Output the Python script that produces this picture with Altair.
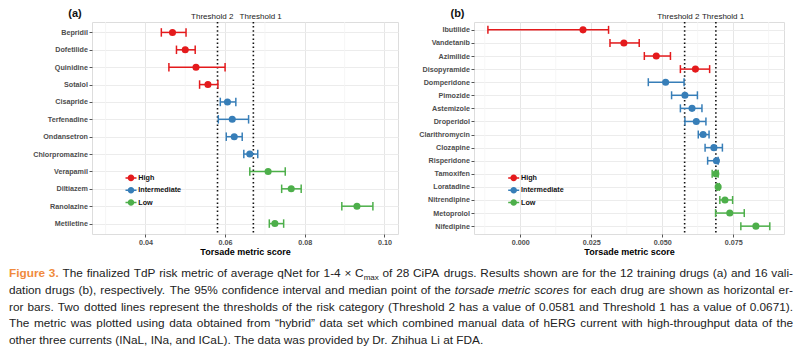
import altair as alt
import pandas as pd

RISKS = ["High", "Intermediate", "Low"]
COLS = ["#E41A1C", "#377EB8", "#4DAF4A"]

# ---------------- panel (a): training drugs ----------------
a_drugs = ["Bepridil", "Dofetilide", "Quinidine", "Sotalol", "Cisapride", "Terfenadine",
           "Ondansetron", "Chlorpromazine", "Verapamil", "Diltiazem", "Ranolazine", "Metiletine"]
a_risk = ["High"] * 4 + ["Intermediate"] * 4 + ["Low"] * 4
a_med = [0.0468, 0.0500, 0.0527, 0.0557, 0.0606, 0.0618, 0.0623, 0.0662, 0.0708, 0.0766, 0.0931, 0.0725]
a_lo = [0.0440, 0.0478, 0.0459, 0.0536, 0.0588, 0.0583, 0.0603, 0.0647, 0.0662, 0.0742, 0.0893, 0.0711]
a_hi = [0.0502, 0.0525, 0.0600, 0.0582, 0.0627, 0.0659, 0.0643, 0.0682, 0.0751, 0.0791, 0.0971, 0.0747]
a_thr = [0.0581, 0.0671]
a_ticks = [0.04, 0.06, 0.08, 0.10]
a_minor = [0.03, 0.05, 0.07, 0.09]
a_dom = [0.0266, 0.1034]

# ---------------- panel (b): validation drugs ----------------
b_drugs = ["Ibutilide", "Vandetanib", "Azimilide", "Disopyramide", "Domperidone", "Pimozide",
           "Astemizole", "Droperidol", "Clarithromycin", "Clozapine", "Risperidone", "Tamoxifen",
           "Loratadine", "Nitrendipine", "Metoprolol", "Nifedipine"]
b_risk = ["High"] * 4 + ["Intermediate"] * 7 + ["Low"] * 5
b_med = [0.0221, 0.0365, 0.0479, 0.0617, 0.0512, 0.0580, 0.0605, 0.0620, 0.0644, 0.0682,
         0.0691, 0.0689, 0.0697, 0.0721, 0.0738, 0.0830]
b_lo = [-0.0114, 0.0316, 0.0437, 0.0564, 0.0451, 0.0533, 0.0564, 0.0580, 0.0627, 0.0651,
        0.0660, 0.0676, 0.0694, 0.0703, 0.0688, 0.0777]
b_hi = [0.0311, 0.0419, 0.0529, 0.0667, 0.0577, 0.0624, 0.0640, 0.0654, 0.0665, 0.0712,
        0.0697, 0.0697, 0.0701, 0.0748, 0.0789, 0.0879]
b_thr = [0.0579, 0.0689]
b_ticks = [0.0, 0.025, 0.05, 0.075]
b_minor = [-0.0125, 0.0125, 0.0375, 0.0625, 0.0875]
b_dom = [-0.0163, 0.0929]

thr_names = ["Threshold 2", "Threshold 1"]

# ---------------- caption ----------------
CAPTION = [
    [("fig", "Figure 3."), ("n", " The finalized TdP risk metric of average qNet for 1-4 \u00d7 C"), ("sub", "max"),
     ("n", " of 28 CiPA drugs. Results shown are for the 12 training drugs (a) and 16 vali-")],
    [("n", "dation drugs (b), respectively. The 95% confidence interval and median point of the"),
     ("i", " torsade metric scores"), ("n", " for each drug are shown as horizontal er-")],
    [("n", "ror bars. Two dotted lines represent the thresholds of the risk category (Threshold 2 has a value of 0.0581 and Threshold 1 has a value of 0.0671).")],
    [("n", "The metric was plotted using data obtained from \u201chybrid\u201d data set which combined manual data of hERG current with high-throughput data of the")],
    [("n", "other three currents (INaL, INa, and ICaL). The data was provided by Dr. Zhihua Li at FDA.")],
]
CAP_JUSTIFY = [True, True, True, True, False]
CAP_LINE_Y = [271.8, 288.5, 305.2, 321.9, 338.6]

FONT = "Liberation Sans"
CAP_FS = 11.8
SUB_FS = 8.0
CAP_LEFT, CAP_RIGHT = 8.0, 792.0

# Helvetica/Arial (Liberation Sans) advance widths, per 1000 em
REG = {' ': 278, '!': 278, '"': 355, '#': 556, '$': 556, '%': 889, '&': 667, "'": 191, '(': 333, ')': 333,
       '*': 389, '+': 584, ',': 278, '-': 333, '.': 278, '/': 278, ':': 278, ';': 278, '<': 584, '=': 584,
       '>': 584, '?': 556, '@': 1015, 'A': 667, 'B': 667, 'C': 722, 'D': 722, 'E': 667, 'F': 611, 'G': 778,
       'H': 722, 'I': 278, 'J': 500, 'K': 667, 'L': 556, 'M': 833, 'N': 722, 'O': 778, 'P': 667, 'Q': 778,
       'R': 722, 'S': 667, 'T': 611, 'U': 722, 'V': 667, 'W': 944, 'X': 667, 'Y': 667, 'Z': 611, 'a': 556,
       'b': 556, 'c': 500, 'd': 556, 'e': 556, 'f': 278, 'g': 556, 'h': 556, 'i': 222, 'j': 222, 'k': 500,
       'l': 222, 'm': 833, 'n': 556, 'o': 556, 'p': 556, 'q': 556, 'r': 333, 's': 500, 't': 278, 'u': 556,
       'v': 500, 'w': 722, 'x': 500, 'y': 500, 'z': 500, '\u00d7': 584, '\u201c': 333, '\u201d': 333}
for d in "0123456789":
    REG[d] = 556
BOLD = dict(REG)
BOLD.update({'i': 278, 'g': 611, 'u': 611, 'r': 389, 'F': 611})

PANEL_A_LEFT, PANEL_TOP = 91.0, 20.8
PLOT_H = 212


def tw(s, style):
    fs = SUB_FS if style == "sub" else CAP_FS
    table = BOLD if style == "fig" else REG
    return sum(table.get(ch, 556) for ch in s) * fs / 1000.0


rows = []
for li, segs in enumerate(CAPTION):
    toks = []
    for si, (st, txt) in enumerate(segs):
        lead = txt.startswith(" ")
        for k, p in enumerate(txt.split()):
            if si == 0 and k == 0:
                sb = False
            elif k == 0:
                sb = lead
            else:
                sb = True
            toks.append((p, st, sb))
    space = REG[' '] * CAP_FS / 1000.0
    nsp = sum(1 for t in toks if t[2])
    natural = sum(tw(t[0], t[1]) for t in toks) + nsp * space
    gap = space
    if CAP_JUSTIFY[li] and nsp:
        gap = space + (CAP_RIGHT - CAP_LEFT - natural) / nsp
    x = CAP_LEFT
    base_y = CAP_LINE_Y[li] + 4.2
    for (p, st, sb) in toks:
        if sb:
            x += gap
        y = base_y + (3.0 if st == "sub" else 0.0)
        rows.append(dict(w=p, style=st, px=x - PANEL_A_LEFT, py=y - PANEL_TOP))
        x += tw(p, st)
cap_df = pd.DataFrame(rows)

PATH = ("M-1,-0.14L1,-0.14L1,0.14L-1,0.14Z "
        "M0.6,0A0.6,0.6 0 1,1 -0.6,0A0.6,0.6 0 1,1 0.6,0Z")

LABEL_COLOR = "#4d4d4d"


def caption_layers():
    out = []
    for st in ["fig", "n", "i", "sub"]:
        sub = cap_df[cap_df["style"] == st]
        kw = dict(align="left", baseline="alphabetic", font=FONT, fontSize=CAP_FS, color="#222222")
        if st == "fig":
            kw.update(color="#f08a3c", fontWeight="bold")
        if st == "i":
            kw.update(fontStyle="italic")
        if st == "sub":
            kw.update(fontSize=SUB_FS)
        out.append(alt.Chart(sub).mark_text(**kw).encode(
            x=alt.X("px:Q", scale=None, axis=None), y=alt.Y("py:Q", scale=None, axis=None), text="w:N"))
    return out


def panel(drugs, risk, med, lo, hi, thr, dom, ticks, minor, fmt, width, cap,
          thr_dx, thr_y, tag, tag_x, legend_x, first):
    df = pd.DataFrame(dict(drug=drugs, risk=risk, med=med, lo=lo, hi=hi))
    xsc = alt.Scale(domain=dom, nice=False, zero=False)
    xax = alt.Axis(values=ticks, format=fmt, title="Torsade metric score",
                   titleFont=FONT, titleFontSize=9, titleFontWeight="bold",
                   titleColor="#000000", titlePadding=2,
                   labelFont=FONT, labelFontSize=7.2, labelFontWeight="bold",
                   labelColor=LABEL_COLOR, tickSize=3, tickColor="#555555",
                   labelPadding=1, domain=False, grid=True, gridColor="#e6e6e6")
    ysc = alt.Scale(type="point", padding=0.6, domain=drugs)
    y = alt.Y("drug:N", scale=ysc, sort=drugs,
              axis=alt.Axis(title=None, labelFont=FONT, labelFontSize=7.2, labelFontWeight="bold",
                            labelColor=LABEL_COLOR, tickSize=3, tickColor="#555555", labelPadding=1.5,
                            domain=False, grid=True, gridColor="#ececec", labelLimit=200))
    cscale = alt.Scale(domain=RISKS, range=COLS)
    # same colours, data-driven domain (sorted High, Intermediate, Low) for stroke / fill of bars
    dscale = alt.Scale(range=COLS)

    minor_l = alt.Chart(pd.DataFrame({"m": minor})).mark_rule(
        color="#f4f4f4", strokeWidth=0.8).encode(x=alt.X("m:Q", scale=xsc, axis=xax))
    thr_df = pd.DataFrame({"t": thr, "name": thr_names})
    thr_l = alt.Chart(thr_df).mark_rule(color="#111111", strokeDash=[1.5, 2.6], strokeWidth=1.6).encode(
        x=alt.X("t:Q", scale=xsc, axis=xax))
    thr_text = []
    for i in range(2):
        thr_text.append(
            alt.Chart(thr_df.iloc[[i]]).mark_text(
                dx=thr_dx[i], align="center", baseline="middle", font=FONT, fontSize=8,
                color="#222222").encode(
                x=alt.X("t:Q", scale=xsc, axis=xax), y=alt.value(thr_y), text="name:N"))
    bar = alt.Chart(df).mark_rule(strokeWidth=1.5).encode(
        x=alt.X("lo:Q", scale=xsc, axis=xax), x2="hi:Q", y=y,
        stroke=alt.Stroke("risk:N", scale=dscale, legend=None))
    cap_lo = alt.Chart(df).mark_tick(thickness=1.5, size=cap, opacity=1).encode(
        x=alt.X("lo:Q", scale=xsc, axis=xax), y=y,
        fill=alt.Fill("risk:N", scale=dscale, legend=None))
    cap_hi = alt.Chart(df).mark_tick(thickness=1.5, size=cap, opacity=1).encode(
        x=alt.X("hi:Q", scale=xsc, axis=xax), y=y,
        fill=alt.Fill("risk:N", scale=dscale, legend=None))
    pts = alt.Chart(df).mark_circle(size=50, opacity=1).encode(
        x=alt.X("med:Q", scale=xsc, axis=xax),
        y=y,
        color=alt.Color("risk:N", scale=cscale,
                        legend=alt.Legend(orient="none", legendX=legend_x, legendY=150.4, title=None,
                                          symbolType=PATH, symbolSize=121, symbolStrokeWidth=0,
                                          symbolOpacity=1, labelFont=FONT, labelFontSize=7.2,
                                          labelFontWeight="bold", labelColor="#111111",
                                          labelOffset=1.8, rowPadding=3.3, padding=0)))
    tag_l = alt.Chart(pd.DataFrame({"s": [tag]})).mark_text(
        font=FONT, fontSize=11, fontWeight="bold", align="center", baseline="middle",
        color="#111111").encode(x=alt.value(tag_x), y=alt.value(-8.5), text="s:N")
    layers = [minor_l, thr_l, bar, cap_lo, cap_hi, pts, tag_l] + thr_text
    if first:
        anc = alt.Chart(pd.DataFrame({"s": [0]})).mark_rule(strokeOpacity=0, opacity=0).encode(
            x=alt.value(-PANEL_A_LEFT), x2=alt.value(-PANEL_A_LEFT),
            y=alt.value(-PANEL_TOP), y2=alt.value(-PANEL_TOP))
        layers.append(anc)
        layers += caption_layers()
    return alt.layer(*layers).properties(width=width, height=PLOT_H)


pa = panel(a_drugs, a_risk, a_med, a_lo, a_hi, a_thr, a_dom, a_ticks, a_minor, ".2f", 306, 8.5,
           [-5.3, 7.3], -4.8, "(a)", -17, 33.5, True)
pb = panel(b_drugs, b_risk, b_med, b_lo, b_hi, b_thr, b_dom, b_ticks, b_minor, ".3f", 310, 8,
           [-6.3, 7.2], -4.8, "(b)", -16.5, 34.2, False)

chart = alt.hconcat(pa, pb, spacing=76, bounds="flush").resolve_scale(
    color="independent", fill="independent", stroke="independent"
).resolve_legend(color="independent").properties(
    padding=0, background="white"
).configure_view(stroke="#999999", strokeWidth=1).configure(font=FONT)

chart.save("out.html", embed_options={"renderer": "svg", "actions": False})
